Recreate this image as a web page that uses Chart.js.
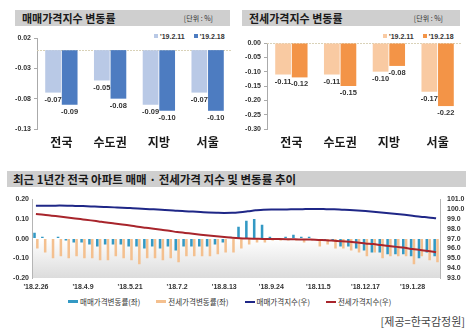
<!DOCTYPE html>
<html>
<head>
<meta charset="utf-8">
<script src="https://cdn.jsdelivr.net/npm/chart.js@4/dist/chart.umd.min.js"></script>
<style>
  body { margin: 0; width: 474px; height: 334px; overflow: hidden; position: relative; background: #fff; font-family: "Noto Sans CJK KR", sans-serif; }
  .title { position: absolute; background: #cfcfcf; color: #1a1a1a; font-weight: bold; font-size: 11px; line-height: 16px; height: 16px; }
  .title span { position: absolute; left: 7px; top: 0; white-space: nowrap; }
  .title .unit { left: auto; right: 17px; font-size: 7px; font-weight: normal; color: #333; }
  .legend { position: absolute; font: bold 7px "Liberation Sans", sans-serif; color: #333; white-space: nowrap; }
  .legend i { display: inline-block; width: 4px; height: 4px; margin-right: 2px; vertical-align: middle; }
  .legend b { margin-right: 9px; vertical-align: middle; }
  .legend3 { position: absolute; left: 68px; top: 295px; font-size: 7.5px; color: #333; white-space: nowrap; line-height: 12px; }
  .legend3 i { display: inline-block; width: 10px; vertical-align: middle; margin-right: 2px; }
  .legend3 span { vertical-align: middle; margin-right: 16px; }
  canvas { position: absolute; }
  .source { position: absolute; right: 9px; top: 313px; font-size: 11px; color: #444; white-space: nowrap; }
</style>
</head>
<body>
<div class="title" style="left:15px; top:10px; width:215px;"><span>매매가격지수 변동률</span><span class="unit">[단위 : %]</span></div>
<div class="title" style="left:242px; top:10px; width:218px;"><span>전세가격지수 변동률</span><span class="unit">[단위 : %]</span></div>
<div class="legend" id="legend1" style="left:154px; top:32px;"></div>
<div class="legend" id="legend2" style="left:383px; top:32px;"></div>
<canvas id="chart1" width="237" height="125" style="left:0; top:30px;"></canvas>
<canvas id="chart2" width="237" height="125" style="left:237px; top:30px;"></canvas>
<div class="title" style="left:7px; top:171px; width:459px; font-size:11.5px;"><span style="left:6px;">최근 1년간 전국 아파트 매매 · 전세가격 지수 및 변동률 추이</span></div>
<canvas id="chart3" width="474" height="106" style="left:0; top:188px;"></canvas>
<div class="legend3" id="legend3"></div>
<div class="source">[제공=한국감정원]</div>

<script>
const regions = ["전국", "수도권", "지방", "서울"];
const weekNames = ["'19.2.11", "'19.2.18"];
const saleWeek1 = [-0.07, -0.05, -0.09, -0.07];
const saleWeek2 = [-0.09, -0.08, -0.10, -0.10];
const jeonseWeek1 = [-0.11, -0.11, -0.10, -0.17];
const jeonseWeek2 = [-0.12, -0.15, -0.08, -0.22];

const weeks = [
    "'18.2.26", "'18.3.5", "'18.3.12", "'18.3.19", "'18.3.26", "'18.4.2", "'18.4.9", "'18.4.16", "'18.4.23", "'18.4.30",
    "'18.5.7", "'18.5.14", "'18.5.21", "'18.5.28", "'18.6.4", "'18.6.11", "'18.6.18", "'18.6.25", "'18.7.2", "'18.7.9",
    "'18.7.16", "'18.7.23", "'18.7.30", "'18.8.6", "'18.8.13", "'18.8.20", "'18.8.27", "'18.9.3", "'18.9.10", "'18.9.17",
    "'18.9.24", "'18.10.1", "'18.10.8", "'18.10.15", "'18.10.22", "'18.10.29", "'18.11.5", "'18.11.12", "'18.11.19", "'18.11.26",
    "'18.12.3", "'18.12.10", "'18.12.17", "'18.12.24", "'18.12.31", "'19.1.7", "'19.1.14", "'19.1.21", "'19.1.28", "'19.2.4",
    "'19.2.11", "'19.2.18"
];
const saleChange = [
    0.03, 0.01, 0.00, 0.01, -0.01, -0.02, -0.02, -0.03, -0.04, -0.03,
    -0.03, -0.03, -0.04, -0.04, -0.05, -0.04, -0.05, -0.04, -0.06, -0.04,
    -0.04, -0.04, -0.04, -0.03, -0.02, 0.01, 0.06, 0.09, 0.10, 0.07,
    0.01, 0.00, 0.01, 0.02, 0.01, 0.01, 0.00, -0.01, -0.01, -0.04,
    -0.04, -0.05, -0.06, -0.07, -0.07, -0.08, -0.08, -0.08, -0.09, -0.10,
    -0.07, -0.09
];
const jeonseChange = [
    -0.05, -0.07, -0.10, -0.09, -0.10, -0.09, -0.10, -0.10, -0.11, -0.11,
    -0.09, -0.10, -0.11, -0.13, -0.10, -0.10, -0.11, -0.10, -0.12, -0.09,
    -0.09, -0.09, -0.09, -0.08, -0.07, -0.07, -0.05, -0.03, -0.02, -0.02,
    -0.01, -0.01, -0.01, -0.01, -0.02, -0.01, -0.04, -0.03, -0.05, -0.05,
    -0.06, -0.07, -0.09, -0.07, -0.10, -0.09, -0.09, -0.09, -0.13, -0.09,
    -0.11, -0.12
];
const saleIndex = [
    100.33, 100.34, 100.34, 100.35, 100.34, 100.32, 100.30, 100.27, 100.23, 100.20,
    100.17, 100.14, 100.10, 100.06, 100.01, 99.97, 99.92, 99.88, 99.82, 99.78,
    99.74, 99.70, 99.66, 99.63, 99.61, 99.62, 99.68, 99.77, 99.87, 99.94,
    99.95, 99.95, 99.96, 99.98, 99.99, 100.00, 100.00, 99.99, 99.98, 99.94,
    99.90, 99.85, 99.79, 99.72, 99.65, 99.57, 99.49, 99.41, 99.32, 99.22,
    99.15, 99.06
];
const jeonseIndex = [
    99.50, 99.43, 99.33, 99.24, 99.14, 99.05, 98.95, 98.85, 98.74, 98.63,
    98.54, 98.44, 98.33, 98.20, 98.10, 98.00, 97.89, 97.79, 97.67, 97.58,
    97.49, 97.40, 97.31, 97.23, 97.16, 97.09, 97.04, 97.01, 96.99, 96.97,
    96.96, 96.95, 96.94, 96.93, 96.91, 96.90, 96.86, 96.83, 96.78, 96.73,
    96.67, 96.60, 96.51, 96.44, 96.34, 96.25, 96.16, 96.07, 95.94, 95.85,
    95.74, 95.62
];
const seriesNames = ["매매가격변동률(좌)", "전세가격변동률(좌)", "매매가격지수(우)", "전세가격지수(우)"];
const seriesColors = ["#3399c4", "#f4c08f", "#1f2787", "#a8252c"];

const numFont = "'Liberation Sans', sans-serif";
const krFont = "'Noto Sans CJK KR', sans-serif";

// value under the end of each bar
const barValues = {
    id: "barValues",
    afterDatasetsDraw(chart) {
        const ctx = chart.ctx;
        ctx.save();
        ctx.font = "bold 7.5px " + numFont;
        ctx.fillStyle = "#333";
        ctx.textAlign = "center";
        ctx.textBaseline = "middle";
        chart.data.datasets.forEach((ds, i) => {
            chart.getDatasetMeta(i).data.forEach((bar, j) => {
                ctx.fillText(ds.data[j].toFixed(2), bar.x, bar.y + 7);
            });
        });
        ctx.restore();
    }
};

const zeroLine = {
    id: "zeroLine",
    beforeDatasetsDraw(chart) {
        const ctx = chart.ctx;
        const area = chart.chartArea;
        const y = Math.round(chart.scales.y.getPixelForValue(0)) + 0.5;
        ctx.save();
        ctx.strokeStyle = "#d9d2b8";
        ctx.setLineDash([2, 1]);
        ctx.beginPath();
        ctx.moveTo(area.left, y);
        ctx.lineTo(area.right, y);
        ctx.stroke();
        ctx.restore();
    }
};

const plotShade = {
    id: "plotShade",
    beforeDraw(chart) {
        const ctx = chart.ctx;
        const a = chart.chartArea;
        const g = ctx.createLinearGradient(0, a.top, 0, a.bottom);
        g.addColorStop(0, "#ffffff");
        g.addColorStop(0.5, "#ffffff");
        g.addColorStop(1, "#dcdcdc");
        ctx.save();
        ctx.fillStyle = g;
        ctx.fillRect(a.left, a.top, a.right - a.left, a.bottom - a.top);
        ctx.restore();
    }
};

function makeLegend(id, colors) {
    document.getElementById(id).innerHTML = weekNames
        .map((name, i) => `<i style="background:${colors[i]}"></i><b>${name}</b>`).join("");
}

function makeTopChart(id, colors, first, second, min, max, pad, axisWidth) {
    new Chart(document.getElementById(id), {
        type: "bar",
        data: {
            labels: regions,
            datasets: [
                { label: weekNames[0], data: first, backgroundColor: colors[0] },
                { label: weekNames[1], data: second, backgroundColor: colors[1] }
            ]
        },
        options: {
            responsive: false,
            animation: false,
            layout: { padding: pad },
            datasets: { bar: { categoryPercentage: 0.68, barPercentage: 0.95 } },
            scales: {
                x: {
                    grid: { display: false, drawTicks: false },
                    border: { display: false },
                    ticks: { padding: 6, color: "#1a1a1a", font: { family: krFont, size: 12, weight: "bold" } },
                    afterFit(s) { s.height = 26; }
                },
                y: {
                    min: min,
                    max: max,
                    ticks: {
                        stepSize: 0.05,
                        padding: 3,
                        color: "#333",
                        font: { family: numFont, size: 7, weight: "bold" },
                        callback: (v) => v.toFixed(2)
                    },
                    grid: { drawOnChartArea: false, tickLength: 3, color: "#aaa" },
                    border: { color: "#aaa" },
                    afterFit(s) { s.width = axisWidth; }
                }
            },
            plugins: { legend: { display: false }, tooltip: { enabled: false } }
        },
        plugins: [zeroLine, barValues]
    });
}

makeLegend("legend1", ["#b9c9e6", "#4d7cc1"]);
makeLegend("legend2", ["#f9caa2", "#f39447"]);
makeTopChart("chart1", ["#b9c9e6", "#4d7cc1"], saleWeek1, saleWeek2, -0.13, 0.02,
    { left: 0, top: 8, right: 5, bottom: 0 }, 37);
makeTopChart("chart2", ["#f9caa2", "#f39447"], jeonseWeek1, jeonseWeek2, -0.30, 0.00,
    { left: 0, top: 13, right: 12, bottom: 0 }, 30);

// bottom legend: thick marks for bars, thin for lines
document.getElementById("legend3").innerHTML = seriesNames
    .map((name, i) => `<i style="background:${seriesColors[i]}; height:${i < 2 ? 3 : 2}px"></i><span>${name}</span>`)
    .join("");

new Chart(document.getElementById("chart3"), {
    data: {
        labels: weeks,
        datasets: [
            { type: "bar", label: seriesNames[0], data: saleChange, backgroundColor: seriesColors[0], yAxisID: "y", order: 1 },
            { type: "bar", label: seriesNames[1], data: jeonseChange, backgroundColor: seriesColors[1], yAxisID: "y", order: 1 },
            { type: "line", label: seriesNames[2], data: saleIndex, borderColor: seriesColors[2],
              borderWidth: 2, pointRadius: 0, cubicInterpolationMode: "monotone", yAxisID: "y2", order: 0 },
            { type: "line", label: seriesNames[3], data: jeonseIndex, borderColor: seriesColors[3],
              borderWidth: 2, pointRadius: 0, cubicInterpolationMode: "monotone", yAxisID: "y2", order: 0 }
        ]
    },
    options: {
        responsive: false,
        animation: false,
        layout: { padding: { left: 1, top: 5, right: 0, bottom: 0 } },
        datasets: { bar: { categoryPercentage: 0.72, barPercentage: 0.9 } },
        scales: {
            x: {
                grid: { display: false, drawTicks: false },
                border: { display: false },
                ticks: {
                    autoSkip: false,
                    maxRotation: 0,
                    padding: 5,
                    color: "#333",
                    font: { family: numFont, size: 7, weight: "bold" },
                    callback(v, i) { return i % 6 === 0 ? this.getLabelForValue(v) : ""; }
                },
                afterFit(s) { s.height = 16; }
            },
            y: {
                position: "left",
                min: -0.2,
                max: 0.2,
                ticks: { stepSize: 0.1, padding: 3, color: "#333", font: { family: numFont, size: 7, weight: "bold" },
                         callback: (v) => v.toFixed(2) },
                grid: { drawOnChartArea: false, drawTicks: false },
                border: { color: "#b5b5b5" },
                afterFit(s) { s.width = 31; }
            },
            y2: {
                position: "right",
                min: 93,
                max: 101,
                ticks: { stepSize: 1, autoSkip: false, padding: 7, color: "#333",
                         font: { family: numFont, size: 7, weight: "bold" },
                         callback: (v) => v.toFixed(1) },
                grid: { drawOnChartArea: false, drawTicks: false },
                border: { color: "#b5b5b5" },
                afterFit(s) { s.width = 34; }
            }
        },
        plugins: { legend: { display: false }, tooltip: { enabled: false } }
    },
    plugins: [plotShade]
});
</script>
</body>
</html>
